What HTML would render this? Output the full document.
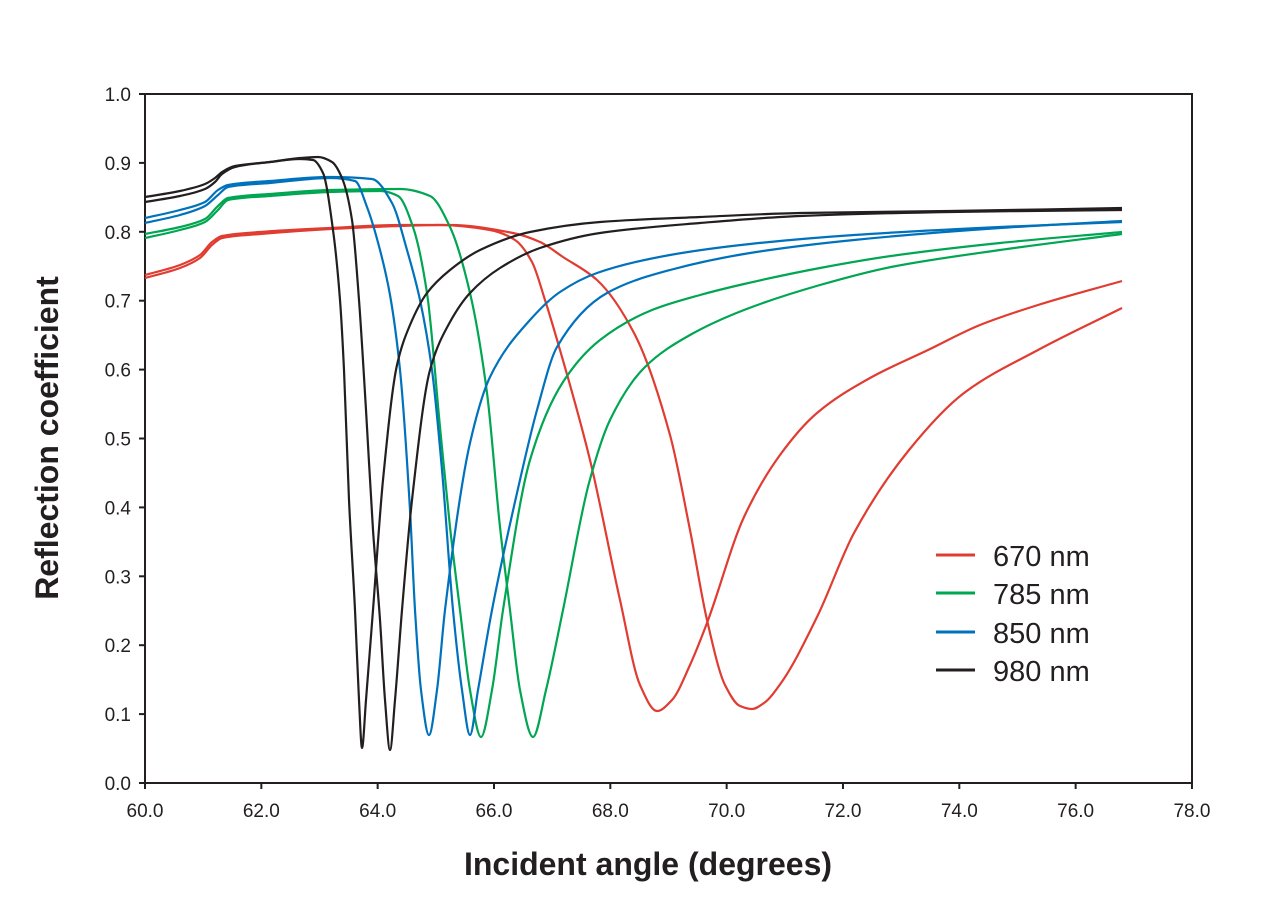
<!DOCTYPE html>
<html><head><meta charset="utf-8"><style>
html,body{margin:0;padding:0;background:#fff;}
svg{display:block;}
text{font-family:"Liberation Sans",sans-serif;fill:#231f20;}
</style></head><body>
<svg id="s" width="1280" height="905" viewBox="0 0 1280 905" xmlns="http://www.w3.org/2000/svg">
<rect x="145" y="94" width="1047" height="689" fill="none" stroke="#231f20" stroke-width="2"/>
<g id="ticks" stroke="#231f20" stroke-width="2"></g>
<g id="labels" font-size="19"></g>
<g id="curves" fill="none" stroke-width="2.2" stroke-linejoin="round"></g>
<text x="648" y="875" font-size="32" font-weight="bold" text-anchor="middle">Incident angle (degrees)</text>
<text transform="translate(58,438) rotate(-90)" font-size="32" font-weight="bold" text-anchor="middle">Reflection coefficient</text>
<g stroke-width="3">
<line x1="936" y1="555" x2="975" y2="555" stroke="#e03c31"/>
<line x1="936" y1="593" x2="975" y2="593" stroke="#00a651"/>
<line x1="936" y1="632" x2="975" y2="632" stroke="#0072bc"/>
<line x1="936" y1="670" x2="975" y2="670" stroke="#231f20"/>
</g>
<g font-size="29">
<text x="993" y="566">670 nm</text>
<text x="993" y="604">785 nm</text>
<text x="993" y="643">850 nm</text>
<text x="993" y="681">980 nm</text>
</g>
</svg>
<script>
var NS="http://www.w3.org/2000/svg";
var T=document.getElementById("ticks"),L=document.getElementById("labels"),C=document.getElementById("curves");
function el(p,n,a,t){var e=document.createElementNS(NS,n);for(var k in a)e.setAttribute(k,a[k]);if(t)e.textContent=t;p.appendChild(e);}
for(var i=0;i<=10;i++){var y=783-i*68.9;el(T,"line",{x1:139,y1:y,x2:145,y2:y});el(L,"text",{x:131,y:y+7,"text-anchor":"end"},(i/10).toFixed(1));}
for(var i=0;i<=9;i++){var x=145+i*116.33;el(T,"line",{x1:x,y1:783,x2:x,y2:789});el(L,"text",{x:x,y:817,"text-anchor":"middle"},(60+2*i).toFixed(1));}
function mono(p){var n=p.length,d=[],m=[];for(var i=0;i<n-1;i++)d.push((p[i+1][1]-p[i][1])/(p[i+1][0]-p[i][0]));
m[0]=d[0];m[n-1]=d[n-2];for(var i=1;i<n-1;i++){if(d[i-1]*d[i]<=0)m[i]=0;else{var h0=p[i][0]-p[i-1][0],h1=p[i+1][0]-p[i][0];var w1=2*h1+h0,w2=h1+2*h0;m[i]=(w1+w2)/(w1/d[i-1]+w2/d[i]);}}
var s="M"+p[0][0]+","+p[0][1];
for(var i=0;i<n-1;i++){var h=p[i+1][0]-p[i][0];s+=" C"+(p[i][0]+h/3).toFixed(2)+","+(p[i][1]+m[i]*h/3).toFixed(2)+" "+(p[i+1][0]-h/3).toFixed(2)+","+(p[i+1][1]-m[i+1]*h/3).toFixed(2)+" "+p[i+1][0]+","+p[i+1][1];}
return s;}
var K="#231f20",G="#00a651",B="#0072bc",R="#e03c31";
var data=[
[R,[[145,278],[180,268],[200,258],[212,245],[222,238],[260,234],[330,229],[400,226],[440,225],[490,230],[515,240],[532,262],[545,300],[560,350],[590,460],[620,600],[640,685],[657,711],[672,700],[690,665],[707,623],[744,517],[780,455],[817,413],[870,378],[928,350],[980,325],[1038,305],[1122,281]]],
[R,[[145,275],[180,265],[200,255],[212,242],[222,236],[260,232],[330,228],[400,225],[450,225],[513,233],[540,242],[563,257],[597,280],[634,333],[670,435],[690,530],[707,620],[725,685],[740,706],[752,709],[764,703],[781,683],[817,617],[854,533],[909,450],[964,393],[1038,350],[1122,308]]],
[G,[[145,238],[180,230],[205,222],[218,210],[228,200],[270,196],[330,192],[380,191],[398,196],[413,227],[427,293],[440,427],[450,527],[460,610],[470,690],[481,737],[492,690],[503,610],[530,460],[563,382],[600,340],[652,310],[700,295],[744,284],[820,268],[891,256],[1000,243],[1122,232]]],
[G,[[145,234],[180,227],[205,219],[218,206],[228,198],[270,194],[330,190],[400,189],[430,196],[450,227],[470,293],[487,393],[500,527],[510,610],[520,690],[533,737],[546,690],[563,610],[589,483],[610,420],[645,367],[690,335],[744,310],[820,285],[891,267],[1000,250],[1122,234]]],
[B,[[145,223],[180,215],[205,206],[218,195],[228,187],[270,183],[330,178],[355,181],[367,207],[380,250],[390,295],[400,370],[410,510],[415,610],[421,690],[429,735],[437,690],[445,610],[470,443],[490,377],[530,320],[560,292],[597,273],[670,255],[750,244],[854,235],[1000,227],[1122,222]]],
[B,[[145,218],[180,210],[205,202],[218,190],[228,185],[270,181],[330,177],[372,179],[392,203],[407,250],[420,300],[432,370],[442,470],[453,610],[462,690],[470,735],[478,690],[492,610],[517,493],[537,410],[557,347],[607,293],[670,270],[750,253],[854,240],[1000,228],[1122,221]]],
[K,[[145,202],[180,196],[205,189],[215,182],[222,174],[235,167],[270,162],[300,159],[313,160],[323,173],[333,230],[340,300],[344,370],[349,500],[355,610],[359,700],[362,748],[366,700],[373,610],[383,480],[397,365],[410,325],[427,293],[450,270],[480,250],[530,232],[600,222],[700,217],[800,213],[950,211],[1122,208]]],
[K,[[145,197],[180,191],[205,184],[215,178],[222,172],[235,166],[270,162],[300,158],[318,157],[332,162],[342,178],[352,220],[359,300],[366,410],[373,530],[380,620],[385,700],[390,750],[395,700],[402,610],[412,500],[430,370],[450,322],[470,293],[500,268],[540,248],[600,233],[700,223],[800,216],[950,212],[1122,210]]]
];
data.forEach(function(c){el(C,"path",{d:mono(c[1]),stroke:c[0]});});
</script>
</body></html>
